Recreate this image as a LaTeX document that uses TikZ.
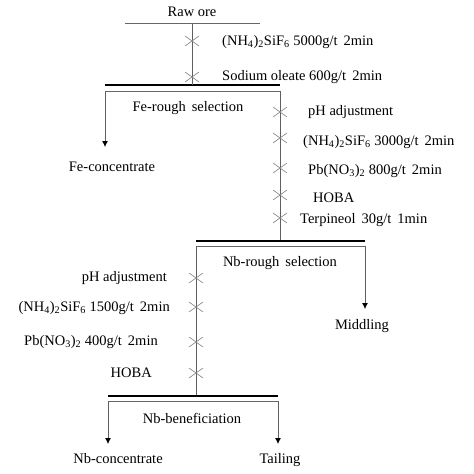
\documentclass[tikz,border=0pt]{standalone}
\usepackage{fontspec}
\setmainfont{Liberation Serif}
\usetikzlibrary{arrows.meta}
\tikzset{
  bar/.style={line width=1.6pt},
  thinbar/.style={gray!80!black, line width=0.7pt},
  feed/.style={gray!75!black, line width=0.8pt},
  product/.style={feed, -{Latex[length=6pt, width=6pt, black]}, shorten >=-1pt},
  lbl/.style={font=\fontsize{14.5}{16}\selectfont, inner sep=0pt},
  xmark/.pic={\draw[gray, line width=0.6pt] (-7,-5)--(7,5) (-7,5)--(7,-5);},
}
\newcommand{\ammon}{(NH\textsubscript{4})\textsubscript{2}SiF\textsubscript{6}}
\newcommand{\lead}{Pb(NO\textsubscript{3})\textsubscript{2}}

\begin{document}
\begin{tikzpicture}[x=1pt, y=-1pt]
      \useasboundingbox (0,0) rectangle (474,474);
      % raw ore and feed line
      \node[lbl] (raw) at (192,12) {Raw ore};
      \coordinate (rawL) at (125,23);
      \coordinate (rawR) at (260,23);
      \coordinate (rawT) at (192,23);
      \draw[thinbar] (rawL)--(rawR);
      % Fe-rough selection
      \coordinate (feL) at (105,85);
      \coordinate (feR) at (280,85);
      \coordinate (feIn) at (192,85);
      \draw[bar] (feL)--(feR);
      \draw[thinbar] (105,91)--(280,91);
      \draw[feed] (rawT)--(feIn);
      \pic at (192,41) {xmark};
      \pic at (192,77) {xmark};
      \node[lbl, anchor=west] (r1) at (222,42) {\ammon{} 5000g/t\, 2min};
      \node[lbl, anchor=west] (r2) at (222,77) {Sodium oleate 600g/t\, 2min};
      \node[lbl] (feRough) at (188,108) {Fe-rough\, selection};
      \node[lbl] (feCon) at (112,167) {Fe-concentrate};
      \coordinate (feArr) at (105,146);
      \draw[product] (105,91)--(feArr);
      % Nb-rough selection
      \coordinate (nbL) at (196,241);
      \coordinate (nbR) at (365,241);
      \coordinate (nbIn) at (280,241);
      \draw[feed] (280,91)--(nbIn);
      \draw[bar] (nbL)--(nbR);
      \draw[thinbar] (196,246)--(365,246);
      \foreach \y in {112,138,168,195,218} \pic at (280,\y) {xmark};
      \node[lbl, anchor=west] (r3) at (308,112) {pH adjustment};
      \node[lbl, anchor=west] (r4) at (303,142) {\ammon{} 3000g/t\, 2min};
      \node[lbl, anchor=west] (r5) at (308,171) {\lead{} 800g/t\, 2min};
      \node[lbl, anchor=west] (r6) at (313,198) {HOBA};
      \node[lbl, anchor=west] (r7) at (300,220) {Terpineol\, 30g/t\, 1min};
      \node[lbl] (nbRough) at (280,263) {Nb-rough\, selection};
      \node[lbl] (mid) at (362,326) {Middling};
      \coordinate (midArr) at (365,308);
      \draw[product] (365,246)--(midArr);
      % Nb-beneficiation
      \coordinate (benL) at (108,396);
      \coordinate (benR) at (278,396);
      \coordinate (benIn) at (196,396);
      \draw[feed] (196,246)--(benIn);
      \draw[bar] (benL)--(benR);
      \draw[thinbar] (108,401)--(278,401);
      \foreach \y in {278,307,342,373} \pic at (196,\y) {xmark};
      \node[lbl, anchor=east] (r8) at (167,278) {pH adjustment};
      \node[lbl, anchor=east] (r9) at (170,308) {\ammon{} 1500g/t\, 2min};
      \node[lbl, anchor=east] (r10) at (158,342) {\lead{} 400g/t\, 2min};
      \node[lbl, anchor=east] (r11) at (152,373) {HOBA};
      \node[lbl] (nbBen) at (192,418) {Nb-beneficiation};
      \node[lbl] (nbCon) at (118,459) {Nb-concentrate};
      \node[lbl] (tail) at (280,460) {Tailing};
      \coordinate (conArr) at (108,443);
      \coordinate (tailArr) at (278,443);
      \draw[product] (108,401)--(conArr);
      \draw[product] (278,401)--(tailArr);
\end{tikzpicture}
\end{document}
